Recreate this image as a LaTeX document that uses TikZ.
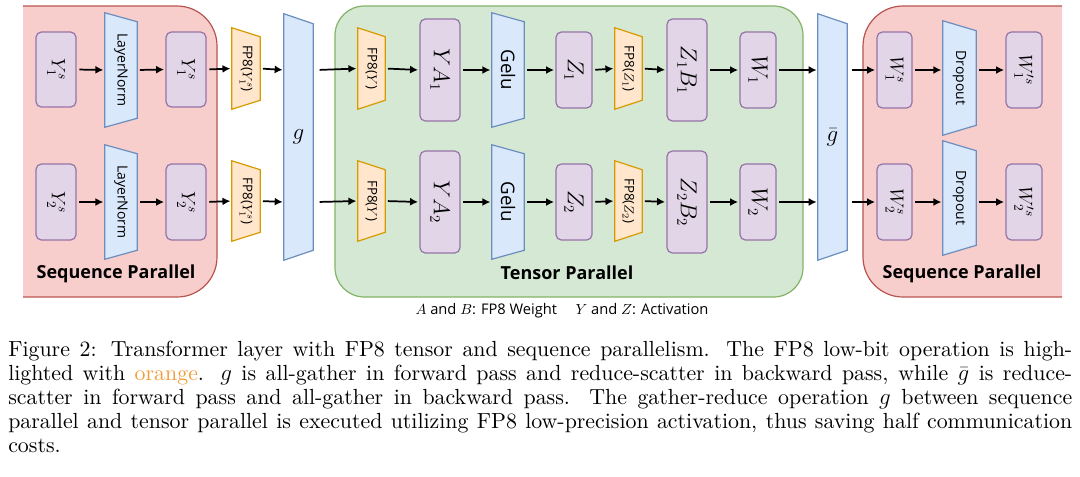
\documentclass[tikz,border=0pt]{standalone}
\usepackage{fontspec}
\usepackage{graphicx}
\usepackage{amsmath}
\newfontfamily\osans{Open Sans}
\newfontfamily\capf{lmroman10-regular.otf}
\usetikzlibrary{arrows.meta}
\definecolor{redf}{HTML}{F8CECC}\definecolor{redd}{HTML}{B85450}
\definecolor{grnf}{HTML}{D5E8D4}\definecolor{grnd}{HTML}{82B366}
\definecolor{purf}{HTML}{E1D5E7}\definecolor{purd}{HTML}{9673A6}
\definecolor{bluf}{HTML}{DAE8FC}\definecolor{blud}{HTML}{6C8EBF}
\definecolor{orf}{HTML}{FFE6CC}\definecolor{ord}{HTML}{D79B00}
\definecolor{orangetxt}{HTML}{F39C3A}
\tikzset{
  box/.style={draw=purd,fill=purf,rounded corners=4pt,line width=0.9pt,inner sep=0pt},
  blu/.style={draw=blud,fill=bluf,line width=0.9pt},
  org/.style={draw=ord,fill=orf,line width=0.9pt},
  cont/.style={line width=0.9pt,rounded corners=30pt},
  ar/.style={-{Latex[length=6pt,width=6pt]},line width=1.3pt,shorten <=2pt,shorten >=1pt},
  lab/.style={font=\osans\bfseries\fontsize{13.5}{15}\selectfont,inner sep=0pt},
}
\newcommand\bxx[6]{\node[box,minimum width={(#4-#2)*0.75pt},minimum height={(#5-#3)*0.75pt}] (#1) at ({(#2+#4)/2},{(#3+#5)/2}) {\rotatebox{-90}{#6}};}
\newcommand\tpz[8]{\node[inner sep=0pt,minimum width={(#4-#2)*0.75pt},minimum height={(#5-#3)*0.75pt}] (#1) at ({(#2+#4)/2},{(#3+#5)/2}) {};
\draw[#7] (#1.north west) -- ([yshift={-#6*0.75pt}]#1.north east) -- ([yshift={#6*0.75pt}]#1.south east) -- (#1.south west) -- cycle;
\node[inner sep=0pt] at (#1.center) {\rotatebox{-90}{#8}};}
\begin{document}
\begin{tikzpicture}[x=0.75pt,y=-0.75pt]
\useasboundingbox (0,0) rectangle (1080,476);
\begin{scope}
\clip (23,0) rectangle (1062,476);
\draw[cont,draw=redd,fill=redf] (-40,6) rectangle (217,297);
\draw[cont,draw=redd,fill=redf] (863,6) rectangle (1120,297);
\end{scope}
\node[draw=grnd,fill=grnf,line width=0.9pt,rounded corners=22pt,minimum width={468*0.75pt},minimum height={291*0.75pt}] (tp) at (569,151.5) {};
\node[lab] (sp1) at (116,274) {Sequence Parallel};
\node[lab] (tpl) at (567,273) {Tensor Parallel};
\node[lab] (sp2) at (962,274) {Sequence Parallel};
\def\fm{\fontsize{14}{16}\selectfont}
\def\fb{\fontsize{16}{18}\selectfont}
\def\fs{\osans\fontsize{10.5}{12}\selectfont}
\def\ff{\osans\fontsize{10}{12}\selectfont}
\bxx{a1}{36}{32}{76}{107}{\fm$Y_1^s$}
\tpz{l1}{105}{13}{137}{127}{9}{blu}{\fs LayerNorm}
\bxx{b1}{166}{32}{206}{107}{\fm$Y_1^s$}
\tpz{f1}{232}{28}{260}{109}{9}{org}{\ff FP8($Y_1^s$)}
\bxx{a2}{36}{164}{76}{240}{\fm$Y_2^s$}
\tpz{l2}{105}{145}{137}{259}{9}{blu}{\fs LayerNorm}
\bxx{b2}{166}{164}{206}{240}{\fm$Y_2^s$}
\tpz{f2}{232}{161}{260}{241}{9}{org}{\ff FP8($Y_1^s$)}
\tpz{g}{284}{14}{313}{260}{10}{blu}{}
\node at (g.center) {\fb$g$};
\tpz{t1}{358}{28}{385}{109}{9}{org}{\ff FP8($Y$)}
\bxx{ya1}{420}{19}{460}{121}{\fb$YA_1$}
\tpz{ge1}{492}{13}{524}{127}{9}{blu}{\osans\fontsize{14}{16}\selectfont Gelu}
\bxx{z1}{556}{32}{592}{108}{\fb$Z_1$}
\tpz{fz1}{615}{28}{642}{109}{9}{org}{\ff FP8($Z_1$)}
\bxx{zb1}{667}{19}{707}{121}{\fb$Z_1B_1$}
\bxx{w1}{740}{32}{776}{108}{\fb$W_1$}
\tpz{t2}{358}{161}{385}{241}{9}{org}{\ff FP8($Y$)}
\bxx{ya2}{420}{151}{460}{253}{\fb$YA_2$}
\tpz{ge2}{492}{145}{524}{259}{9}{blu}{\osans\fontsize{14}{16}\selectfont Gelu}
\bxx{z2}{556}{164}{592}{240}{\fb$Z_2$}
\tpz{fz2}{615}{161}{642}{241}{9}{org}{\ff FP8($Z_2$)}
\bxx{zb2}{667}{151}{707}{253}{\fb$Z_2B_2$}
\bxx{w2}{740}{164}{776}{240}{\fb$W_2$}
\tpz{gb}{818}{14}{847}{260}{10}{blu}{}
\node at (gb.center) {\fb$\bar g$};
\bxx{v1}{877}{32}{912}{108}{\fm$W_1^s$}
\tpz{d1}{943}{21}{976}{135}{10}{blu}{\fs Dropout}
\bxx{u1}{1006}{32}{1042}{108}{\fm$W_1'^s$}
\bxx{v2}{877}{164}{912}{240}{\fm$W_2^s$}
\tpz{d2}{943}{141}{976}{255}{10}{blu}{\fs Dropout}
\bxx{u2}{1006}{164}{1042}{240}{\fm$W_2'^s$}
\coordinate (gi1) at (284,70); \coordinate (go1) at (317,70);
\coordinate (gi2) at (284,202); \coordinate (go2) at (317,202);
\coordinate (hi1) at (818,70); \coordinate (ho1) at (849,70);
\coordinate (hi2) at (818,202); \coordinate (ho2) at (849,202);
\foreach \p/\q in {a1/l1,l1/b1,b1/f1,t1/ya1,ya1/ge1,ge1/z1,z1/fz1,fz1/zb1,zb1/w1,
                   a2/l2,l2/b2,b2/f2,t2/ya2,ya2/ge2,ge2/z2,z2/fz2,fz2/zb2,zb2/w2}
  \draw[ar] (\p.east) -- (\q.west);
\draw[ar] (v1.east) -- (v1.east -| d1.west); \draw[ar] (u1.west -| d1.east) -- (u1.west);
\draw[ar] (v2.east) -- (v2.east -| d2.west); \draw[ar] (u2.west -| d2.east) -- (u2.west);
\draw[ar] (f1.east) -- (gi1); \draw[ar] (f2.east) -- (gi2);
\draw[ar] (go1) -- (t1.west); \draw[ar] (go2) -- (t2.west);
\draw[ar] (w1.east) -- (hi1); \draw[ar] (w2.east) -- (hi2);
\draw[ar] (ho1) -- (v1.west); \draw[ar] (ho2) -- (v2.west);
\node[font=\osans\fontsize{11}{13}\selectfont,inner sep=0pt] (leg) at (562,311) {$A$ and $B$: FP8 Weight\quad\ $Y$ and $Z$: Activation};
\node[anchor=base west,inner sep=0pt] (cap) at (8,356) {\parbox[t]{798pt}{\capf\fontsize{16.4}{18}\selectfont\hyphenpenalty=10000\tolerance=10000
Figure 2: Transformer layer with FP8 tensor and sequence parallelism. The FP8 low-bit operation is high-\linebreak
lighted with {\color{orangetxt}orange}. $g$ is all-gather in forward pass and reduce-scatter in backward pass, while $\bar{g}$ is reduce-\linebreak
scatter in forward pass and all-gather in backward pass. The gather-reduce operation $g$ between sequence\linebreak
parallel and tensor parallel is executed utilizing FP8 low-precision activation, thus saving half communication\linebreak
costs.}};
\end{tikzpicture}
\end{document}
